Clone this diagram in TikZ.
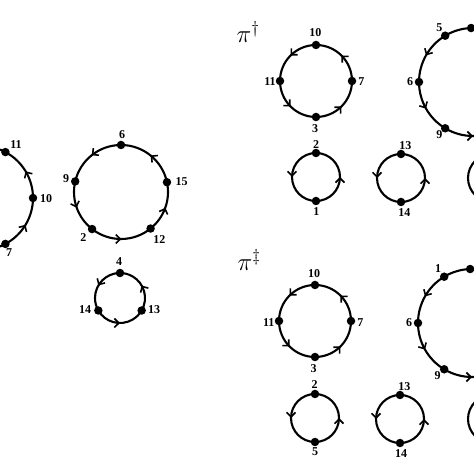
\documentclass[tikz,border=0pt]{standalone}
\usepackage{fontspec}
\newfontfamily\lblfont{Liberation Serif}
\usetikzlibrary{arrows.meta,decorations.markings}
\tikzset{
  edge/.style={line width=2.1pt},
  seg/.style={edge,postaction={decorate},decoration={markings,
     mark=at position 0.5 with {\arrow{Straight Barb[length=4.5pt,width=9pt,line width=1.6pt]}}}},
  dot/.style={circle,fill=black,inner sep=0pt,minimum size=8.5pt},
  lbl/.style={inner sep=0pt,font=\lblfont\bfseries\fontsize{12}{14}\selectfont},
  pilbl/.style={inner sep=0pt,font=\fontsize{27}{30}\selectfont}
}
\begin{document}
\begin{tikzpicture}[x=1pt,y=1pt]
\useasboundingbox (0,0) rectangle (474,474);
\fill[white] (0,0) rectangle (474,474);
\clip (0,0) rectangle (474,474);

% ---------- left part ----------
% partial circle (11,10,7)
\coordinate (cL1) at (-19,276);
\node[dot] (l11) at ([shift={(62:52)}]cL1) {};
\node[dot] (l10) at ([shift={(0:52)}]cL1) {};
\node[dot] (l7) at ([shift={(-62:52)}]cL1) {};
\draw[seg] (l7.center) arc[start angle=-62,end angle=0,radius=52];
\draw[seg] (l10.center) arc[start angle=0,end angle=62,radius=52];
\draw[edge] (l11.center) arc[start angle=62,end angle=298,radius=52];
\node[lbl] (tl11) at (16,329) {11};
\node[lbl] (tl10) at (46,275.3) {10};
\node[lbl] (tl7) at (9,221) {7};

% pentagon (6,9,2,12,15)
\coordinate (cL2) at (121,282);
\node[dot] (m6) at ([shift={(90:47)}]cL2) {};
\node[dot] (m9) at ([shift={(167:47)}]cL2) {};
\node[dot] (m2) at ([shift={(232:47)}]cL2) {};
\node[dot] (m12) at ([shift={(309:47)}]cL2) {};
\node[dot] (m15) at ([shift={(12:47)}]cL2) {};
\draw[seg] (m6.center) arc[start angle=90,end angle=167,radius=47];
\draw[seg] (m9.center) arc[start angle=167,end angle=232,radius=47];
\draw[seg] (m2.center) arc[start angle=232,end angle=309,radius=47];
\draw[seg] (m12.center) arc[start angle=309,end angle=372,radius=47];
\draw[seg] (m15.center) arc[start angle=12,end angle=90,radius=47];
\node[lbl] (tm6) at (122,339.3) {6};
\node[lbl] (tm15) at (181.7,292.3) {15};
\node[lbl] (tm12) at (159.3,234) {12};
\node[lbl] (tm2) at (83.3,236.7) {2};
\node[lbl] (tm9) at (66,295) {9};

% triangle (4,14,13)
\coordinate (cL3) at (120,176);
\node[dot] (t4) at ([shift={(90:25)}]cL3) {};
\node[dot] (t14) at ([shift={(210:25)}]cL3) {};
\node[dot] (t13) at ([shift={(330:25)}]cL3) {};
\draw[seg] (t4.center) arc[start angle=90,end angle=210,radius=25];
\draw[seg] (t14.center) arc[start angle=210,end angle=330,radius=25];
\draw[seg] (t13.center) arc[start angle=330,end angle=450,radius=25];
\node[lbl] (tt4) at (119,212) {4};
\node[lbl] (tt14) at (85,164) {14};
\node[lbl] (tt13) at (154,164) {13};

% ---------- top right: pi dagger ----------
\node[pilbl] (pidag) at (248,442) {$\pi^{\dagger}$};

\coordinate (cR1) at (316,393);
\node[dot] (a10) at ([shift={(90:36)}]cR1) {};
\node[dot] (a11) at ([shift={(180:36)}]cR1) {};
\node[dot] (a3) at ([shift={(270:36)}]cR1) {};
\node[dot] (a7) at ([shift={(0:36)}]cR1) {};
\draw[seg] (a10.center) arc[start angle=90,end angle=180,radius=36];
\draw[seg] (a11.center) arc[start angle=180,end angle=270,radius=36];
\draw[seg] (a3.center) arc[start angle=270,end angle=360,radius=36];
\draw[seg] (a7.center) arc[start angle=0,end angle=90,radius=36];
\node[lbl] (ta10) at (315.3,441.3) {10};
\node[lbl] (ta11) at (270,392.3) {11};
\node[lbl] (ta7) at (361.3,392.3) {7};
\node[lbl] (ta3) at (315,345.7) {3};

\coordinate (cR2) at (473,392);
\node[dot] (aT) at ([shift={(92:54)}]cR2) {};
\node[dot] (a5) at ([shift={(121:54)}]cR2) {};
\node[dot] (a6) at ([shift={(180:54)}]cR2) {};
\node[dot] (a9) at ([shift={(239:54)}]cR2) {};
\draw[edge] (aT.center) arc[start angle=92,end angle=121,radius=54];
\draw[seg] (a5.center) arc[start angle=121,end angle=180,radius=54];
\draw[seg] (a6.center) arc[start angle=180,end angle=239,radius=54];
\draw[seg] (a9.center) arc[start angle=239,end angle=301,radius=54];
\draw[edge] ([shift={(301:54)}]cR2) arc[start angle=301,end angle=452,radius=54];
\node[lbl] (ta5) at (439.3,446.3) {5};
\node[lbl] (ta6) at (410,392.3) {6};
\node[lbl] (ta9) at (439.3,339) {9};

\coordinate (cR3) at (316,297);
\node[dot] (a2) at ([shift={(90:24)}]cR3) {};
\node[dot] (a1) at ([shift={(270:24)}]cR3) {};
\draw[seg] (a2.center) arc[start angle=90,end angle=270,radius=24];
\draw[seg] (a1.center) arc[start angle=270,end angle=450,radius=24];
\node[lbl] (ta2) at (316,329) {2};
\node[lbl] (ta1) at (316.3,262.7) {1};

\coordinate (cR4) at (401,296);
\node[dot] (a13) at ([shift={(90:24)}]cR4) {};
\node[dot] (a14) at ([shift={(270:24)}]cR4) {};
\draw[seg] (a13.center) arc[start angle=90,end angle=270,radius=24];
\draw[seg] (a14.center) arc[start angle=270,end angle=450,radius=24];
\node[lbl] (ta13) at (405.3,328) {13};
\node[lbl] (ta14) at (404.3,261.7) {14};

\draw[edge] (492,296) circle[radius=24];

% ---------- bottom right: pi double dagger ----------
\node[pilbl] (piddag) at (249,214) {$\pi^{\ddagger}$};

\coordinate (cB1) at (315,153);
\node[dot] (b10) at ([shift={(90:36)}]cB1) {};
\node[dot] (b11) at ([shift={(180:36)}]cB1) {};
\node[dot] (b3) at ([shift={(270:36)}]cB1) {};
\node[dot] (b7) at ([shift={(0:36)}]cB1) {};
\draw[seg] (b10.center) arc[start angle=90,end angle=180,radius=36];
\draw[seg] (b11.center) arc[start angle=180,end angle=270,radius=36];
\draw[seg] (b3.center) arc[start angle=270,end angle=360,radius=36];
\draw[seg] (b7.center) arc[start angle=0,end angle=90,radius=36];
\node[lbl] (tb10) at (314,200.7) {10};
\node[lbl] (tb11) at (268.7,151.3) {11};
\node[lbl] (tb7) at (360.3,151.7) {7};
\node[lbl] (tb3) at (313.7,105.7) {3};

\coordinate (cB2) at (472,151);
\node[dot] (bT) at ([shift={(92:54)}]cB2) {};
\node[dot] (b1) at ([shift={(121:54)}]cB2) {};
\node[dot] (b6) at ([shift={(180:54)}]cB2) {};
\node[dot] (b9) at ([shift={(239:54)}]cB2) {};
\draw[edge] (bT.center) arc[start angle=92,end angle=121,radius=54];
\draw[seg] (b1.center) arc[start angle=121,end angle=180,radius=54];
\draw[seg] (b6.center) arc[start angle=180,end angle=239,radius=54];
\draw[seg] (b9.center) arc[start angle=239,end angle=301,radius=54];
\draw[edge] ([shift={(301:54)}]cB2) arc[start angle=301,end angle=452,radius=54];
\node[lbl] (tb1) at (438,205.7) {1};
\node[lbl] (tb6) at (409,151.3) {6};
\node[lbl] (tb9) at (437.7,98.3) {9};

\coordinate (cB3) at (315,56);
\node[dot] (b2) at ([shift={(90:24)}]cB3) {};
\node[dot] (b5) at ([shift={(270:24)}]cB3) {};
\draw[seg] (b2.center) arc[start angle=90,end angle=270,radius=24];
\draw[seg] (b5.center) arc[start angle=270,end angle=450,radius=24];
\node[lbl] (tb2) at (314.7,89) {2};
\node[lbl] (tb5) at (315,22.3) {5};

\coordinate (cB4) at (400,55);
\node[dot] (b13) at ([shift={(90:24)}]cB4) {};
\node[dot] (b14) at ([shift={(270:24)}]cB4) {};
\draw[seg] (b13.center) arc[start angle=90,end angle=270,radius=24];
\draw[seg] (b14.center) arc[start angle=270,end angle=450,radius=24];
\node[lbl] (tb13) at (404.3,87.3) {13};
\node[lbl] (tb14) at (401,20.7) {14};

\draw[edge] (492,55) circle[radius=24];
\end{tikzpicture}
\end{document}
